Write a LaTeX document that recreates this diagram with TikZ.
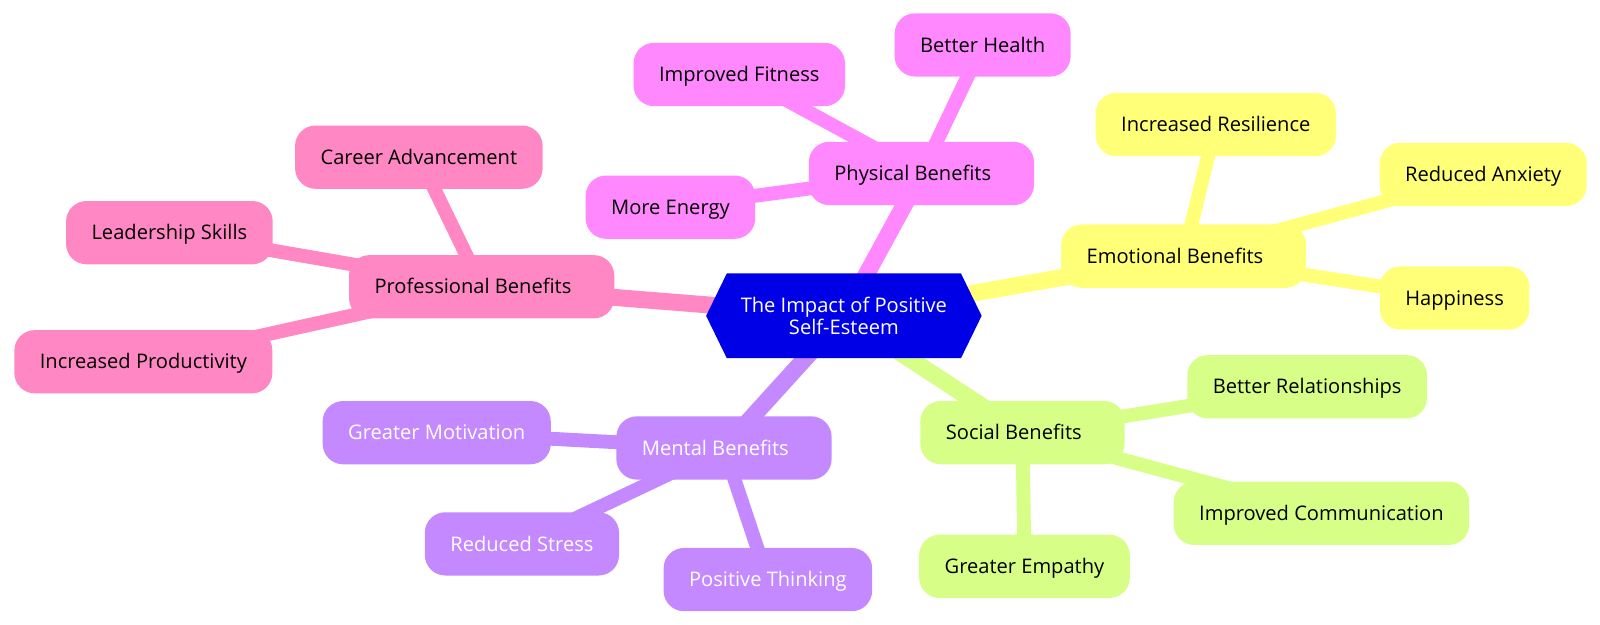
\documentclass[tikz,border=0pt]{standalone}
\usepackage{fontspec}
\setmainfont{Open Sans}
\usepackage{tikz}
\usetikzlibrary{shapes.symbols, backgrounds}
\usepackage{xcolor}
\definecolor{rootblue}{RGB}{0,0,230}
\definecolor{profpink}{RGB}{255,136,196}
\definecolor{physpink}{RGB}{255,136,255}
\definecolor{emoyellow}{RGB}{255,255,120}
\definecolor{socgreen}{RGB}{215,255,136}
\definecolor{mentpurple}{RGB}{196,136,255}
\tikzstyle{hub} = [shape=signal, signal to=east and west, signal pointer angle=128, minimum width=135pt, minimum height=41.5pt, inner sep=0pt, align=center, text=white, fill=rootblue]
\tikzstyle{topic} = [rectangle, rounded corners=10pt, minimum height=31pt, inner xsep=12.5pt, text height=9.1pt, text depth=2.1pt, text centered, execute at end node={\hspace*{8.5pt}}]
\tikzstyle{leaf} = [rectangle, rounded corners=10pt, minimum height=31pt, inner xsep=12.5pt, text height=9.1pt, text depth=2.1pt, text centered]
\tikzstyle{link} = [line width=8.3pt]
\tikzstyle{twig} = [line width=6.8pt]

\begin{document}
\begin{tikzpicture}[x=0.5pt, y=-0.5pt, font=\fontsize{9.85}{11.1}\selectfont]
        \useasboundingbox (0,0) rectangle (1568,612);
        \node (root) [hub] at (827,309.5) {The Impact of Positive\\Self-Esteem};
        \node (prof) [topic, fill=profpink] at (472,281) {Professional Benefits};
        \node (career) [leaf, fill=profpink] at (410.5,154) {Career Advancement};
        \node (lead) [leaf, fill=profpink] at (166,228) {Leadership Skills};
        \node (prod) [leaf, fill=profpink] at (140.5,354.5) {Increased Productivity};
        \node (phys) [topic, fill=physpink] at (903,170) {Physical Benefits};
        \node (fit) [leaf, fill=physpink] at (724.5,73) {Improved Fitness};
        \node (health) [leaf, fill=physpink] at (963,44) {Better Health};
        \node (energy) [leaf, fill=physpink] at (657,203) {More Energy};
        \node (emo) [topic, fill=emoyellow] at (1160,251) {Emotional Benefits};
        \node (resil) [leaf, fill=emoyellow] at (1191.5,122) {Increased Resilience};
        \node (anx) [leaf, fill=emoyellow] at (1453.5,171) {Reduced Anxiety};
        \node (happy) [leaf, fill=emoyellow] at (1425.5,292) {Happiness};
        \node (social) [topic, fill=socgreen] at (1002,424) {Social Benefits};
        \node (rel) [leaf, fill=socgreen] at (1281,379) {Better Relationships};
        \node (comm) [leaf, fill=socgreen] at (1295,503) {Improved Communication};
        \node (emp) [leaf, fill=socgreen] at (1004,555) {Greater Empathy};
        \node (mental) [topic, fill=mentpurple, text=white] at (709.5,439) {Mental Benefits};
        \node (motiv) [leaf, fill=mentpurple, text=white] at (428,424) {Greater Motivation};
        \node (stress) [leaf, fill=mentpurple, text=white] at (511.5,533) {Reduced Stress};
        \node (think) [leaf, fill=mentpurple, text=white] at (752.5,568) {Positive Thinking};

        \begin{pgfonlayer}{background}
        \draw [link, profpink] (root.center) -- (prof.center);
        \draw [twig, profpink] (prof.center) -- (career.center);
        \draw [twig, profpink] (prof.center) -- (lead.center);
        \draw [twig, profpink] (prof.center) -- (prod.center);
        \draw [link, physpink] (root.center) -- (phys.center);
        \draw [twig, physpink] (phys.center) -- (fit.center);
        \draw [twig, physpink] (phys.center) -- (health.center);
        \draw [twig, physpink] (phys.center) -- (energy.center);
        \draw [link, emoyellow] (root.center) -- (emo.center);
        \draw [twig, emoyellow] (emo.center) -- (resil.center);
        \draw [twig, emoyellow] (emo.center) -- (anx.center);
        \draw [twig, emoyellow] (emo.center) -- (happy.center);
        \draw [link, socgreen] (root.center) -- (social.center);
        \draw [twig, socgreen] (social.center) -- (rel.center);
        \draw [twig, socgreen] (social.center) -- (comm.center);
        \draw [twig, socgreen] (social.center) -- (emp.center);
        \draw [link, mentpurple] (root.center) -- (mental.center);
        \draw [twig, mentpurple] (mental.center) -- (motiv.center);
        \draw [twig, mentpurple] (mental.center) -- (stress.center);
        \draw [twig, mentpurple] (mental.center) -- (think.center);
        \end{pgfonlayer}
    \end{tikzpicture}
\end{document}
